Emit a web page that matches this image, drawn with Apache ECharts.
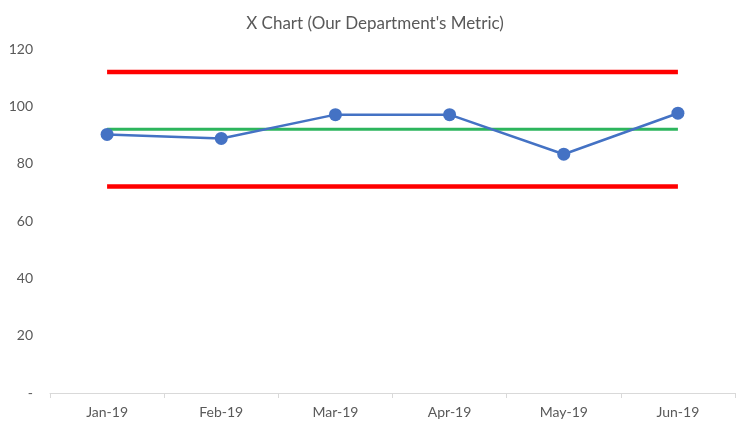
<!DOCTYPE html>
<html>
<head>
<meta charset="utf-8">
<script src="https://cdn.jsdelivr.net/npm/echarts@6/dist/echarts.min.js"></script>
<style>html,body{margin:0;padding:0;background:#fff}#c{width:750px;height:430px}</style>
</head>
<body>
<div id="c"></div>
<script>
const categories = ['Jan-19','Feb-19','Mar-19','Apr-19','May-19','Jun-19'];
const metric = [90.2, 88.8, 97.1, 97.1, 83.3, 97.6];
const average = [92, 92, 92, 92, 92, 92];
const upperLimit = [112, 112, 112, 112, 112, 112];
const lowerLimit = [72, 72, 72, 72, 72, 72];
const yTicks = [0, 20, 40, 60, 80, 100, 120];

const chart = echarts.init(document.getElementById('c'));
const font = 'Lato, "Open Sans", sans-serif';
chart.setOption({
  animation: false,
  title: {
    text: "X Chart (Our Department's Metric)",
    left: 'center', top: 10,
    textStyle: {fontFamily: font, fontSize: 17, fontWeight: 'normal', color: '#595959'}
  },
  grid: {left: 50, right: 15, top: 49, bottom: 37, containLabel: false},
  xAxis: {
    type: 'category', data: categories, boundaryGap: true,
    axisLine: {lineStyle: {color: '#d9d9d9', width: 1}},
    axisTick: {show: true, alignWithLabel: false, length: 5, lineStyle: {color: '#d9d9d9'}},
    axisLabel: {fontFamily: font, fontSize: 14, color: '#595959', margin: 12}
  },
  yAxis: {
    type: 'value', min: yTicks[0], max: yTicks[yTicks.length - 1], interval: 20,
    axisLine: {show: false}, axisTick: {show: false}, splitLine: {show: false},
    axisLabel: {fontFamily: font, fontSize: 14, color: '#595959', margin: 17,
      formatter: v => v === 0 ? '-' : String(v)}
  },
  series: [
    {type: 'line', data: upperLimit, symbol: 'none', lineStyle: {color: '#ff0000', width: 4.5}, z: 1},
    {type: 'line', data: lowerLimit, symbol: 'none', lineStyle: {color: '#ff0000', width: 4.5}, z: 1},
    {type: 'line', data: average, symbol: 'none', lineStyle: {color: '#2db55d', width: 3}, z: 2},
    {type: 'line', data: metric, symbol: 'circle', symbolSize: 13,
      itemStyle: {color: '#4472c4'}, lineStyle: {color: '#4472c4', width: 2.5}, z: 3}
  ]
});
</script>
</body>
</html>
